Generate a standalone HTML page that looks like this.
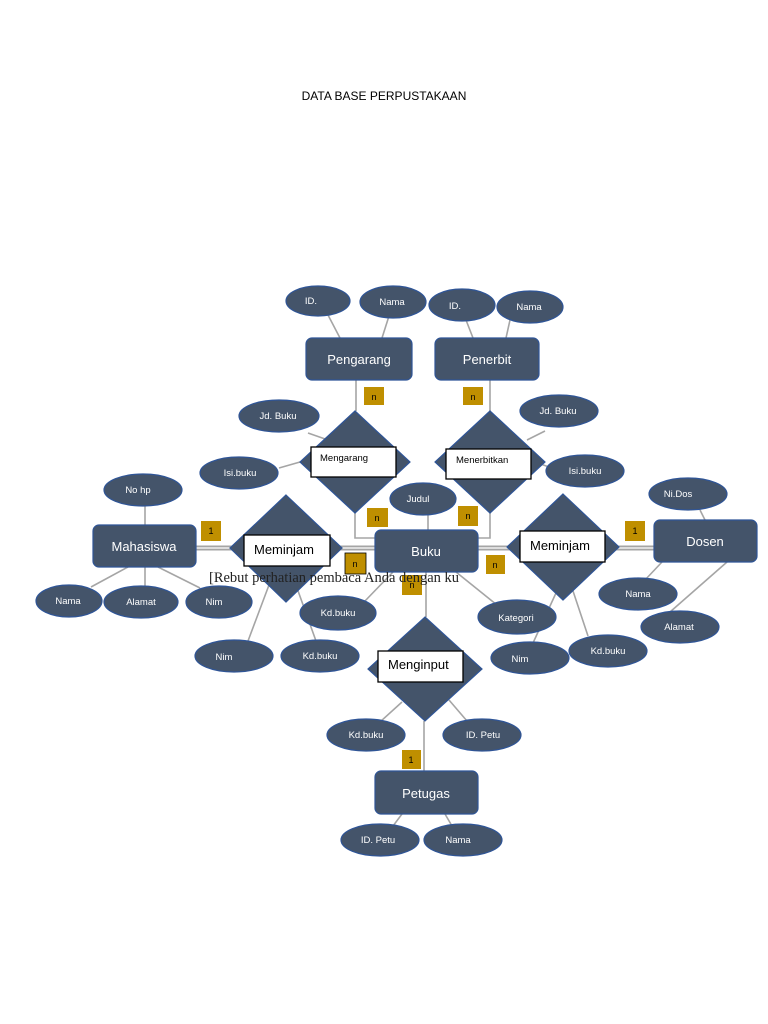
<!DOCTYPE html>
<html><head><meta charset="utf-8"><style>
html,body{margin:0;padding:0;background:#fff;}
svg{display:block;}
.e{fill:#44546a;stroke:#2f5597;stroke-width:1.2;}
.r{fill:#44546a;stroke:#2f5597;stroke-width:1.2;}
.l{stroke:#a5a5a5;stroke-width:1.6;fill:none;}
.t{font-family:"Liberation Sans",sans-serif;fill:#fff;text-anchor:middle;}
.s{font-size:9.5px;}
.b{font-size:13px;}
.lb{fill:#fff;stroke:#000;stroke-width:1.3;}
.k{font-family:"Liberation Sans",sans-serif;fill:#000;}
.n{fill:#bf8f00;}
.nt{font-family:"Liberation Sans",sans-serif;font-size:9px;fill:#000;text-anchor:middle;}
</style></head><body>
<svg width="768" height="1024" viewBox="0 0 768 1024">
<text x="384" y="100" class="k" font-size="12" text-anchor="middle">DATA BASE PERPUSTAKAAN</text>

<!-- lines -->
<g class="l">
<line x1="328" y1="315" x2="340" y2="338"/><line x1="389" y1="316" x2="382" y2="338"/>
<line x1="466" y1="320" x2="473" y2="338"/><line x1="510" y1="320" x2="506" y2="338"/>
<polyline points="356,380 356,411"/><polyline points="490,380 490,411"/>
<polyline points="355,513 355,538 375,538"/><polyline points="490,513 490,538 478,538"/>
<line x1="308" y1="433" x2="328" y2="440"/><line x1="279" y1="468" x2="300" y2="462"/>
<line x1="545" y1="431" x2="527" y2="440"/><line x1="549" y1="467" x2="535" y2="462"/>
<line x1="428" y1="514" x2="428" y2="530"/>
<line x1="145" y1="506" x2="145" y2="525"/>
<line x1="128" y1="567" x2="91" y2="587"/><line x1="145" y1="567" x2="145" y2="587"/><line x1="158" y1="567" x2="200" y2="588"/>
<line x1="269" y1="585" x2="248" y2="641"/><line x1="297" y1="588" x2="316" y2="641"/>
<line x1="393" y1="572" x2="365" y2="601"/><line x1="456" y1="572" x2="497" y2="605"/>
<line x1="426" y1="572" x2="426" y2="617"/>
<line x1="556" y1="593" x2="533" y2="643"/><line x1="572" y1="588" x2="588" y2="636"/>
<line x1="700" y1="510" x2="705" y2="520"/><line x1="662" y1="562" x2="645" y2="580"/><line x1="727" y1="562" x2="670" y2="612"/>
<line x1="402" y1="702" x2="380" y2="722"/><line x1="449" y1="700" x2="467" y2="721"/>
<line x1="424" y1="721" x2="424" y2="771"/>
<line x1="402" y1="814" x2="393" y2="826"/><line x1="445" y1="814" x2="452" y2="826"/>
</g>
<!-- double lines -->
<g stroke="#a5a5a5" stroke-width="5"><line x1="196" y1="548" x2="375" y2="548"/><line x1="478" y1="548" x2="654" y2="548"/></g>
<g stroke="#fff" stroke-width="1.2"><line x1="196" y1="548" x2="375" y2="548"/><line x1="478" y1="548" x2="654" y2="548"/></g>

<!-- diamonds -->
<g class="r">
<polygon points="355,411 410,462 355,513 300,462"/>
<polygon points="490,411 545,462 490,513 435,462"/>
<polygon points="286,495 342,548 286,602 230,548"/>
<polygon points="563,494 619,547 563,600 507,547"/>
<polygon points="425,617 482,669 425,721 368,669"/>
</g>

<!-- rects -->
<g class="r">
<rect x="306" y="338" width="106" height="42" rx="6"/>
<rect x="435" y="338" width="104" height="42" rx="6"/>
<rect x="93" y="525" width="103" height="42" rx="6"/>
<rect x="375" y="530" width="103" height="42" rx="6"/>
<rect x="654" y="520" width="103" height="42" rx="6"/>
<rect x="375" y="771" width="103" height="43" rx="6"/>
</g>
<g class="t b">
<text x="359" y="364">Pengarang</text><text x="487" y="364">Penerbit</text>
<text x="144" y="551">Mahasiswa</text><text x="426" y="556">Buku</text>
<text x="705" y="546">Dosen</text><text x="426" y="798">Petugas</text>
</g>

<!-- ellipses -->
<g class="e">
<ellipse cx="318" cy="301" rx="32" ry="15"/><ellipse cx="393" cy="302" rx="33" ry="16"/>
<ellipse cx="462" cy="305" rx="33" ry="16"/><ellipse cx="530" cy="307" rx="33" ry="16"/>
<ellipse cx="279" cy="416" rx="40" ry="16"/><ellipse cx="239" cy="473" rx="39" ry="16"/>
<ellipse cx="559" cy="411" rx="39" ry="16"/><ellipse cx="585" cy="471" rx="39" ry="16"/>
<ellipse cx="423" cy="499" rx="33" ry="16"/>
<ellipse cx="143" cy="490" rx="39" ry="16"/>
<ellipse cx="69" cy="601" rx="33" ry="16"/><ellipse cx="141" cy="602" rx="37" ry="16"/><ellipse cx="219" cy="602" rx="33" ry="16"/>
<ellipse cx="338" cy="613" rx="38" ry="17"/><ellipse cx="517" cy="617" rx="39" ry="17"/>
<ellipse cx="234" cy="656" rx="39" ry="16"/><ellipse cx="320" cy="656" rx="39" ry="16"/>
<ellipse cx="530" cy="658" rx="39" ry="16"/><ellipse cx="608" cy="651" rx="39" ry="16"/>
<ellipse cx="688" cy="494" rx="39" ry="16"/><ellipse cx="638" cy="594" rx="39" ry="16"/><ellipse cx="680" cy="627" rx="39" ry="16"/>
<ellipse cx="366" cy="735" rx="39" ry="16"/><ellipse cx="482" cy="735" rx="39" ry="16"/>
<ellipse cx="380" cy="840" rx="39" ry="16"/><ellipse cx="463" cy="840" rx="39" ry="16"/>
</g>
<g class="t s">
<text x="311" y="304">ID.</text><text x="392" y="305">Nama</text>
<text x="455" y="309">ID.</text><text x="529" y="310">Nama</text>
<text x="278" y="419">Jd. Buku</text><text x="240" y="476">Isi.buku</text>
<text x="558" y="414">Jd. Buku</text><text x="585" y="474">Isi.buku</text>
<text x="418" y="502">Judul</text><text x="138" y="493">No hp</text>
<text x="68" y="604">Nama</text><text x="141" y="605">Alamat</text><text x="214" y="605">Nim</text>
<text x="338" y="616">Kd.buku</text><text x="516" y="621">Kategori</text>
<text x="224" y="660">Nim</text><text x="320" y="659">Kd.buku</text>
<text x="520" y="662">Nim</text><text x="608" y="654">Kd.buku</text>
<text x="678" y="497">Ni.Dos</text><text x="638" y="597">Nama</text><text x="679" y="630">Alamat</text>
<text x="366" y="738">Kd.buku</text><text x="483" y="738">ID. Petu</text>
<text x="378" y="843">ID. Petu</text><text x="458" y="843">Nama</text>
</g>

<!-- label boxes -->
<rect class="lb" x="311" y="447" width="85" height="30"/>
<rect class="lb" x="446" y="449" width="85" height="30"/>
<rect class="lb" x="244" y="535" width="86" height="31"/>
<rect class="lb" x="520" y="531" width="85" height="31"/>
<rect class="lb" x="378" y="651" width="85" height="31"/>
<g class="k">
<text x="320" y="461" font-size="9.5">Mengarang</text>
<text x="456" y="463" font-size="9.5">Menerbitkan</text>
<text x="254" y="554" font-size="13">Meminjam</text>
<text x="530" y="550" font-size="13">Meminjam</text>
<text x="388" y="669" font-size="13">Menginput</text>
</g>

<!-- cardinality boxes -->
<g class="n">
<rect x="364" y="387" width="20" height="18"/><rect x="463" y="387" width="20" height="18"/>
<rect x="367" y="508" width="21" height="19"/><rect x="458" y="506" width="20" height="20"/>
<rect x="201" y="521" width="20" height="20"/><rect x="625" y="521" width="20" height="20"/>
<rect x="345" y="553" width="21" height="21" stroke="#000" stroke-width="0.8"/><rect x="402" y="575" width="20" height="20"/>
<rect x="486" y="555" width="19" height="19"/><rect x="402" y="750" width="19" height="19"/>
</g>
<g class="nt">
<text x="374" y="400">n</text><text x="473" y="400">n</text>
<text x="377" y="521">n</text><text x="468" y="519">n</text>
<text x="211" y="534">1</text><text x="635" y="534">1</text>
<text x="355" y="567">n</text><text x="412" y="588">n</text>
<text x="495" y="568">n</text><text x="411" y="763">1</text>
</g>

<text x="209" y="582" font-family="'Liberation Serif',serif" font-size="14.5" fill="#222">[Rebut perhatian pembaca Anda dengan ku</text>
</svg>
</body></html>
